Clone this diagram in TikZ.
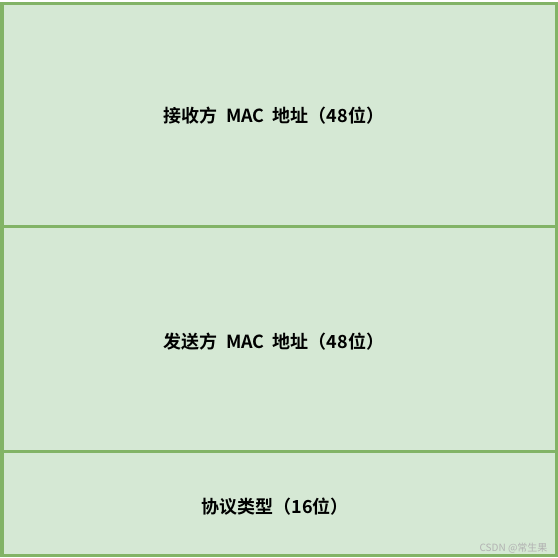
\documentclass[tikz,border=0pt]{standalone}
\usepackage{fontspec}
\setmainfont{Noto Sans CJK SC}[BoldFont={Noto Sans CJK SC Bold}]
\begin{document}
\begin{tikzpicture}[x=1pt,y=-1pt,
  field/.style={fill=fieldfill, draw=fieldline, line width=3pt},
  lab/.style={font=\bfseries\fontsize{18}{21}\selectfont, text=black}]
\definecolor{fieldfill}{HTML}{D5E8D4}
\definecolor{fieldline}{HTML}{82B366}
\useasboundingbox (0,0) rectangle (558,558);
\fill[white] (0,0) rectangle (558,558);
\draw[field] (2,3) rectangle (556,226);
\draw[field] (2,226) rectangle (556,451);
\draw[field] (2,451) rectangle (556,555);
\node[lab] (a) at (274,116) {接收方\ \ MAC\ \ 地址（48位）};
\node[lab] (b) at (274,342) {发送方\ \ MAC\ \ 地址（48位）};
\node[lab] (c) at (275,507) {协议类型（16位）};
\node[font=\fontsize{10}{11}\selectfont, text=black!30, anchor=east] (w) at (551,548) {CSDN @常生果};
\end{tikzpicture}
\end{document}
